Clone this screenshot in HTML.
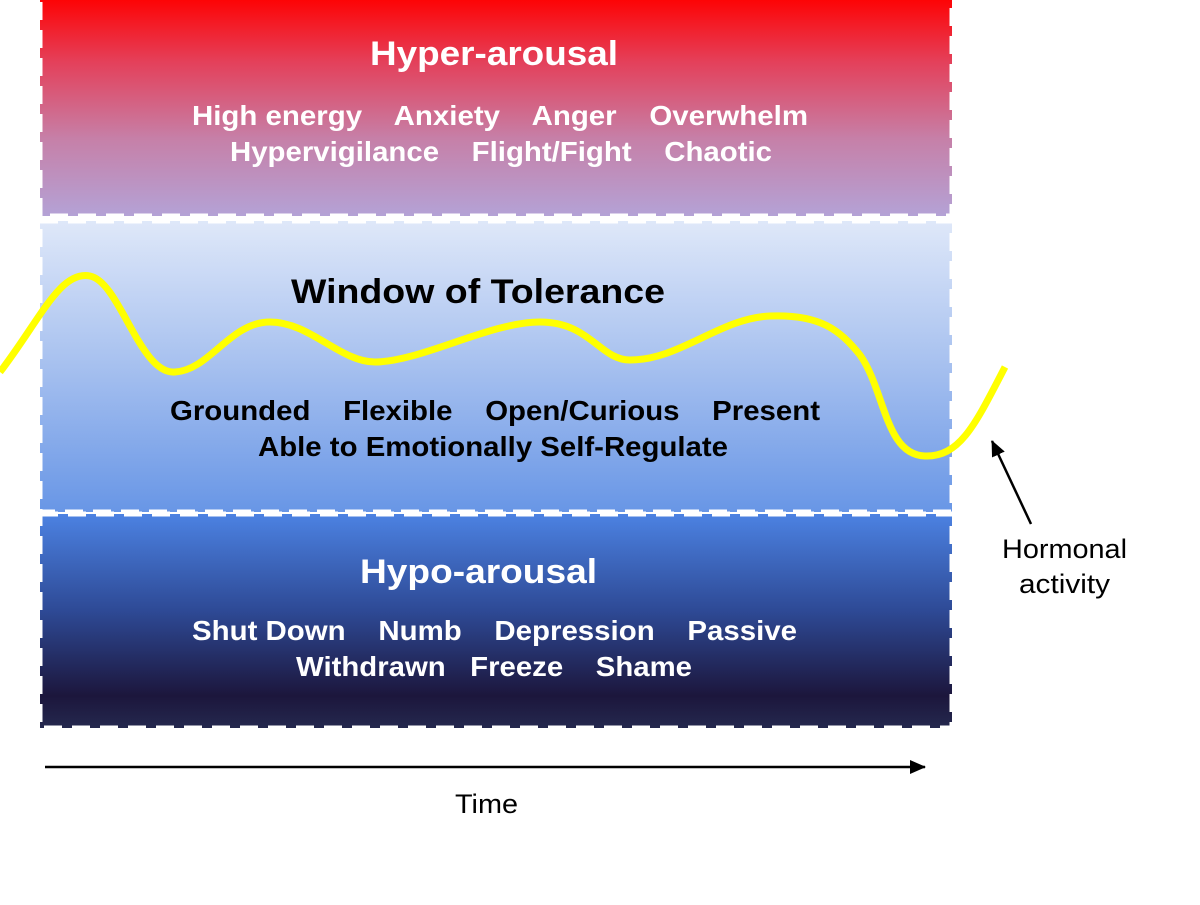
<!DOCTYPE html>
<html><head><meta charset="utf-8"><style>
html,body{margin:0;padding:0;background:#fff;}
body{width:1200px;height:900px;overflow:hidden;}
</style></head><body>
<svg width="1200" height="900" viewBox="0 0 1200 900" xmlns="http://www.w3.org/2000/svg" font-family="Liberation Sans, Arial, sans-serif">
<defs>
<linearGradient id="g1" x1="0" y1="0" x2="0" y2="1">
<stop offset="0" stop-color="#ff0000"/><stop offset="0.3" stop-color="#e4405a"/><stop offset="0.65" stop-color="#c680a8"/><stop offset="1" stop-color="#b4a2d6"/></linearGradient>
<linearGradient id="g2" x1="0" y1="0" x2="0" y2="1">
<stop offset="0" stop-color="#dfe8f9"/><stop offset="0.5" stop-color="#a6c0ef"/><stop offset="1" stop-color="#6896e6"/></linearGradient>
<linearGradient id="g3" x1="0" y1="0" x2="0" y2="1">
<stop offset="0" stop-color="#4c82e2"/><stop offset="0.45" stop-color="#2e4a96"/><stop offset="0.85" stop-color="#1c163c"/><stop offset="1" stop-color="#24284e"/></linearGradient>
<marker id="ah" markerWidth="16" markerHeight="14" refX="15" refY="7" orient="auto" markerUnits="userSpaceOnUse" viewBox="0 0 16 14"><path d="M0,0 L16,7 L0,14 z" fill="#000"/></marker>
</defs>
<rect x="40" y="-4" width="912" height="220" fill="url(#g1)" stroke="#fff" stroke-width="5" stroke-dasharray="18,10"/>
<rect x="40" y="221" width="912" height="291" fill="url(#g2)" stroke="#fff" stroke-width="5" stroke-dasharray="18,10"/>
<rect x="40" y="514" width="912" height="214" fill="url(#g3)" stroke="#fff" stroke-width="5" stroke-dasharray="18,10"/>

<g fill="#fff" font-weight="bold" lengthAdjust="spacingAndGlyphs">
<text x="370" y="65" font-size="34" textLength="248" lengthAdjust="spacingAndGlyphs">Hyper-arousal</text>
<text x="192" y="125" font-size="28" textLength="616" lengthAdjust="spacingAndGlyphs">High energy&#160;&#160;&#160; Anxiety&#160;&#160;&#160; Anger&#160;&#160;&#160; Overwhelm</text>
<text x="230" y="161" font-size="28" textLength="542" lengthAdjust="spacingAndGlyphs">Hypervigilance&#160;&#160;&#160; Flight/Fight&#160;&#160;&#160; Chaotic</text>
<text x="360" y="583" font-size="34" textLength="237" lengthAdjust="spacingAndGlyphs">Hypo-arousal</text>
<text x="192" y="640" font-size="28" textLength="605" lengthAdjust="spacingAndGlyphs">Shut Down&#160;&#160;&#160; Numb&#160;&#160;&#160; Depression&#160;&#160;&#160; Passive</text>
<text x="296" y="676" font-size="28" textLength="396" lengthAdjust="spacingAndGlyphs">Withdrawn&#160;&#160; Freeze&#160;&#160;&#160; Shame</text>
</g>
<g fill="#000" font-weight="bold">
<text x="291" y="303" font-size="34" textLength="374" lengthAdjust="spacingAndGlyphs">Window of Tolerance</text>
<text x="170" y="420" font-size="28" textLength="650" lengthAdjust="spacingAndGlyphs">Grounded&#160;&#160;&#160; Flexible&#160;&#160;&#160; Open/Curious&#160;&#160;&#160; Present</text>
<text x="258" y="456" font-size="28" textLength="470" lengthAdjust="spacingAndGlyphs">Able to Emotionally Self-Regulate</text>
</g>

<path d="M0,372 C40,320 60,270 90,276 C120,282 140,375 175,372 C210,370 230,322 270,322 C310,322 340,362 375,362 C420,362 490,322 540,322 C590,322 600,360 630,360 C680,360 720,318 770,316 C820,314 840,330 860,355 C885,390 885,455 925,456 C960,457 975,425 1005,367" fill="none" stroke="#ffff00" stroke-width="7" stroke-linecap="butt"/>

<line x1="1031" y1="524" x2="992" y2="441" stroke="#000" stroke-width="2.5" marker-end="url(#ah)"/>
<g font-size="27" fill="#000">
<text x="1002" y="558" textLength="125" lengthAdjust="spacingAndGlyphs">Hormonal</text>
<text x="1019" y="593" textLength="91" lengthAdjust="spacingAndGlyphs">activity</text>
<text x="455" y="813" textLength="63" lengthAdjust="spacingAndGlyphs">Time</text>
</g>
<line x1="45" y1="767" x2="925" y2="767" stroke="#000" stroke-width="2.5" marker-end="url(#ah)"/>
</svg>
</body></html>
